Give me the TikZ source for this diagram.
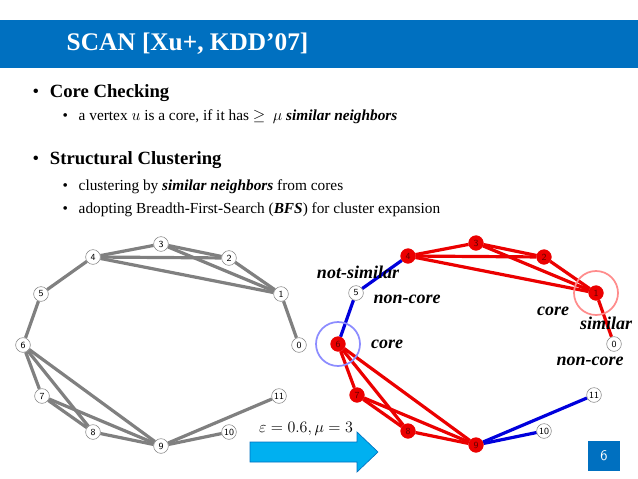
\documentclass[tikz,border=0pt]{standalone}
\usepackage{fontspec}
\usepackage{amsmath}
\setmainfont{Liberation Serif}
\usetikzlibrary{backgrounds}
\definecolor{barblue}{RGB}{0,112,192}
\definecolor{arrowblue}{RGB}{0,176,240}
\definecolor{edgegray}{RGB}{128,128,128}
\definecolor{cred}{RGB}{235,0,0}
\definecolor{cblue}{RGB}{0,0,220}
\tikzset{
  v/.style={circle,draw=gray,fill=white,inner sep=0pt,minimum size=11pt,font=\fontsize{7}{7}\sffamily},
  vr/.style={v,draw=cred,fill=cred,text=black!60!red},
  e/.style={line width=2.4pt,edgegray},
  er/.style={line width=2.4pt,cred},
  eb/.style={line width=2.4pt,cblue},
  lab/.style={font=\fontsize{13.5}{13.5}\selectfont\bfseries\itshape},
}
\begin{document}
\begin{tikzpicture}[x=0.75pt,y=-0.75pt]
\useasboundingbox (0,0) rectangle (638,478);
\fill[barblue] (0,20) rectangle (638,68);
\node[anchor=west,text=white,font=\fontsize{19}{19}\selectfont\bfseries] (title) at (62,44) {SCAN [Xu+, KDD’07]};
% bullets
\node[anchor=west,font=\fontsize{14}{14}\selectfont] (b1) at (28,93) {•\hspace{8pt}\textbf{Core Checking}};
\node[anchor=west,font=\fontsize{11.5}{11.5}\selectfont] (b11) at (58,117) {•\hspace{8pt}a vertex $u$ is a core, if it has $\geq$\ \ $\mu$ \textbf{\textit{similar neighbors}}};
\node[anchor=west,font=\fontsize{14}{14}\selectfont] (b2) at (28,160) {•\hspace{8pt}\textbf{Structural Clustering}};
\node[anchor=west,font=\fontsize{11.5}{11.5}\selectfont] (b21) at (58,187) {•\hspace{8pt}clustering by \textbf{\textit{similar neighbors}} from cores};
\node[anchor=west,font=\fontsize{11.5}{11.5}\selectfont] (b22) at (58,210) {•\hspace{8pt}adopting Breadth-First-Search (\textbf{\textit{BFS}}) for cluster expansion};
% left graph
\node[v] (a3) at (161,244) {3};
\node[v] (a4) at (93,257) {4};
\node[v] (a2) at (229,258) {2};
\node[v] (a1) at (281,294) {1};
\node[v] (a5) at (41,294) {5};
\node[v] (a0) at (299,345) {0};
\node[v] (a6) at (23,345) {6};
\node[v] (a7) at (42,396) {7};
\node[v] (a11) at (279,396) {11};
\node[v] (a8) at (93,432) {8};
\node[v] (a10) at (229,432) {10};
\node[v] (a9) at (161,446) {9};
\begin{scope}[on background layer]
\foreach \s/\t in {3/4,3/2,3/1,4/2,4/1,2/1,1/0,4/5,5/6,6/7,6/8,6/9,7/8,7/9,8/9,9/10,9/11}
  \draw[e] (a\s) -- (a\t);
\end{scope}
% right graph
\node[vr] (b3) at (476,243) {3};
\node[vr] (b4) at (408,256) {4};
\node[vr] (b2) at (544,257) {2};
\node[vr] (b1) at (596,293) {1};
\node[v] (b5) at (356,293) {5};
\node[v] (b0) at (614,344) {0};
\node[vr] (b6) at (338,344) {6};
\node[vr] (b7) at (357,395) {7};
\node[v] (b11) at (594,395) {11};
\node[vr] (b8) at (408,431) {8};
\node[v] (b10) at (544,431) {10};
\node[vr] (b9) at (476,445) {9};
\begin{scope}[on background layer]
\foreach \s/\t in {3/4,3/2,3/1,4/2,4/1,2/1,1/0,6/7,6/8,6/9,7/8,7/9,8/9}
  \draw[er] (b\s) -- (b\t);
\foreach \s/\t in {4/5,5/6,9/10,9/11}
  \draw[eb] (b\s) -- (b\t);
\end{scope}
\draw[line width=1.3pt,red!45] (b1) circle[radius=22];
\draw[line width=1.3pt,blue!45] (b6) circle[radius=22];
% labels
\node[lab] (l1) at (358,272) {not-similar};
\node[lab] (l2) at (407,299) {non-core};
\node[lab] (l3) at (553,311) {core};
\node[lab] (l4) at (606,323) {similar};
\node[lab] (l5) at (387,344) {core};
\node[lab] (l6) at (590,361) {non-core};
% arrow
\filldraw[fill=arrowblue,draw=barblue,line width=0.5pt]
  (250,442) -- (357,442) -- (357,432) -- (378,452) -- (357,472) -- (357,462) -- (250,462) -- cycle;
\node[font=\fontsize{13}{13}\selectfont] (eq) at (306,429) {$\varepsilon = 0.6, \mu = 3$};
% page number
\node[fill=barblue,text=white,minimum width=24pt,minimum height=23pt,font=\fontsize{11}{11}\sffamily] (pg) at (604,456) {6};
\end{tikzpicture}
\end{document}
